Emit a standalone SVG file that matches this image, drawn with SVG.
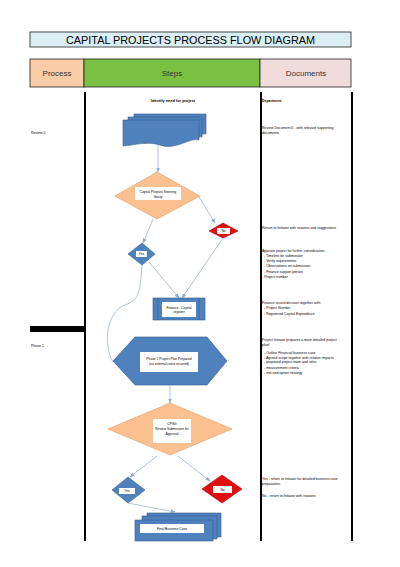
<svg xmlns="http://www.w3.org/2000/svg" width="400" height="567" viewBox="0 0 400 567">
<style>
.t{font-family:"Liberation Sans",Arial,sans-serif;fill:#000}
.s{font-size:3.5px}
.d{font-size:3.3px;text-anchor:middle}
.hd{font-size:8px;text-anchor:middle;fill:#333}
.col{stroke:#000;stroke-width:2}
.blue{fill:#4f81bd;stroke:#385d8a;stroke-width:0.6}
.peach{fill:#fac090;stroke:#e59b5a;stroke-width:0.6}
.red{fill:#e01010;stroke:#b00000;stroke-width:0.6}
.wb{fill:#fff;stroke:none}
.cn{fill:none;stroke:#8fa9cf;stroke-width:0.7}
</style>
<defs>
<marker id="ar" viewBox="0 0 10 10" refX="9" refY="5" markerWidth="5" markerHeight="5" orient="auto" markerUnits="userSpaceOnUse">
<path d="M0,1 L10,5 L0,9 Z" fill="#8fa9cf"/>
</marker>
</defs>
<rect width="400" height="567" fill="#fff"/>

<g id="title">
<rect x="30" y="32" width="321" height="15" fill="#dbeef4" stroke="#222" stroke-width="0.8"/>
<text class="t" x="190.5" y="43.5" font-size="11" fill="#222" text-anchor="middle" textLength="249" lengthAdjust="spacingAndGlyphs">CAPITAL  PROJECTS  PROCESS FLOW DIAGRAM</text>
</g>

<g id="header">
<rect x="30" y="59" width="54" height="28" fill="#f9cba6" stroke="#222" stroke-width="0.8"/>
<rect x="84" y="59" width="176" height="28" fill="#7ac143" stroke="#222" stroke-width="0.8"/>
<rect x="260" y="59" width="91" height="28" fill="#f2dcdb" stroke="#222" stroke-width="0.8"/>
<text class="t hd" x="57" y="76">Process</text>
<text class="t hd" x="172" y="76">Steps</text>
<text class="t hd" x="306" y="76">Documents</text>
</g>

<g id="columns">
<line class="col" x1="85" y1="92" x2="85" y2="153" stroke="#555"/>
<line class="col" x1="85" y1="153" x2="85" y2="541"/>
<line class="col" x1="261" y1="92" x2="261" y2="153" stroke="#555"/>
<line class="col" x1="261" y1="153" x2="261" y2="541"/>
<line class="col" x1="352" y1="92" x2="352" y2="153" stroke="#555"/>
<line class="col" x1="352" y1="153" x2="352" y2="541"/>
<rect x="30" y="326" width="55" height="6" fill="#000"/>
</g>

<g id="process-labels">
<text class="t s" x="31" y="134">Review 0</text>
<text class="t s" x="31" y="347">Phase 1</text>
</g>

<g id="doc-texts">
<text class="t s" x="262" y="102" font-weight="bold" font-size="3.8">Department</text>
<text class="t s" x="262" y="129">Review Document 0 - with relevant supporting</text>
<text class="t s" x="262" y="134">documents</text>
<text class="t s" x="262" y="229">Return to Initiator with reasons and suggestions</text>
<text class="t s" x="262" y="252">Approve project for further consideration -</text>
<text class="t s" x="264" y="256.5">- Timeline for submission</text>
<text class="t s" x="264" y="261.5">- Verify requirements</text>
<text class="t s" x="264" y="267">- Observations on submission</text>
<text class="t s" x="264" y="272.5">- Finance support person</text>
<text class="t s" x="262" y="277.5">- Project number</text>
<text class="t s" x="262" y="304">Finance record decision together with:</text>
<text class="t s" x="264" y="309">- Project Number</text>
<text class="t s" x="264" y="314.5">- Registered Capital Expenditure</text>
<text class="t s" x="262" y="341">Project Initiator prepares a more detailed project</text>
<text class="t s" x="262" y="345.5">plan/</text>
<text class="t s" x="264" y="353.5">- Outline Financial business case</text>
<text class="t s" x="264" y="358.5">- Agreed scope together with relative impacts</text>
<text class="t s" x="264" y="363">- proposed project team and roles</text>
<text class="t s" x="264" y="368.5">- measurement criteria</text>
<text class="t s" x="264" y="374">- exit and option strategy</text>
<text class="t s" x="262" y="480">Yes - return to Initiator for detailed business case</text>
<text class="t s" x="262" y="485">preparation.</text>
<text class="t s" x="262" y="497">No - return to Initiator with reasons</text>
</g>

<g id="step-title">
<text class="t" x="173" y="102" font-size="3.9" font-weight="bold" text-anchor="middle">Identify need for project</text>
</g>

<g id="connectors">
<line class="cn" x1="158" y1="144" x2="158" y2="172" marker-end="url(#ar)"/>
<line class="cn" x1="199" y1="197" x2="215" y2="223" marker-end="url(#ar)"/>
<line class="cn" x1="153" y1="219" x2="143" y2="243" marker-end="url(#ar)"/>
<line class="cn" x1="149" y1="262" x2="179" y2="298" marker-end="url(#ar)"/>
<line class="cn" x1="223" y1="238" x2="182" y2="298" marker-end="url(#ar)"/>
<path class="cn" d="M142,265 C140,290 140,300 125,305 C106,312 103,345 113,362"/>
<line class="cn" x1="170" y1="385" x2="170" y2="403" marker-end="url(#ar)"/>
<line class="cn" x1="157" y1="456" x2="130" y2="477" marker-end="url(#ar)"/>
<line class="cn" x1="178" y1="456" x2="210" y2="481" marker-end="url(#ar)"/>
<line class="cn" x1="128" y1="503" x2="175" y2="512" marker-end="url(#ar)"/>
</g>

<g id="node-identify">
<path class="blue" d="M134,114 H206 V134 C203,133.5 201,134.5 199,135.5 L134,135.5 Z"/>
<path class="blue" d="M128,117 H202 V137 C199,136.5 197,137.5 195,138.5 L128,138.5 Z"/>
<path class="blue" d="M123,120 H199 V140 C190,137 175,151 160,145 C148,141 135,145 123,146 Z"/>
</g>

<g id="node-cpsg">
<polygon class="peach" points="157,172 200,196 157,219 115,196"/>
<rect class="wb" x="135" y="187" width="46" height="13"/>
<text class="t d" x="158" y="192.5">Capital Projects Steering</text>
<text class="t d" x="158" y="197.5">Group</text>
</g>

<g id="node-no1">
<polygon class="red" points="223,223 238,231 223,238 209,231"/>
<rect class="wb" x="217" y="228" width="13" height="6"/>
<text class="t d" x="223.5" y="232.3">No</text>
</g>

<g id="node-yes1">
<polygon class="blue" points="142,243 155,254 142,265 128,254"/>
<rect class="wb" x="136" y="251" width="11" height="6"/>
<text class="t d" x="141.5" y="255.2">Yes</text>
</g>

<g id="node-finance">
<rect class="blue" x="153" y="298" width="52" height="22"/>
<line x1="158" y1="298" x2="158" y2="320" stroke="#385d8a" stroke-width="0.6"/>
<line x1="199" y1="298" x2="199" y2="320" stroke="#385d8a" stroke-width="0.6"/>
<rect class="wb" x="162" y="302" width="34" height="15"/>
<text class="t d" x="179" y="308.5">Finance - Capital</text>
<text class="t d" x="179" y="313">register</text>
</g>

<g id="node-phase1">
<polygon class="blue" points="135,337 207,337 227,361 207,385 135,385 113,361"/>
<rect class="wb" x="140" y="352" width="58" height="20"/>
<text class="t d" x="169" y="360">Phase 1 Project Plan Prepared</text>
<text class="t d" x="169" y="365">(no external costs incurred)</text>
</g>

<g id="node-cpsg-review">
<polygon class="peach" points="170,403 232,429 170,455 108,429"/>
<rect class="wb" x="153" y="419" width="38" height="24"/>
<text class="t d" x="172" y="425">CPSG</text>
<text class="t d" x="172" y="430">Review Submission for</text>
<text class="t d" x="172" y="435">Approval</text>
</g>

<g id="node-yes2">
<polygon class="blue" points="128,477 145,490 128,503 112,490"/>
<rect class="wb" x="119" y="488" width="16" height="6"/>
<text class="t d" x="127" y="492.3">Yes</text>
</g>

<g id="node-no2">
<polygon class="red" points="222,475 242,489 222,503 202,489"/>
<rect class="wb" x="213" y="486" width="19" height="7"/>
<text class="t d" x="222.5" y="490.8">No</text>
</g>

<g id="node-final">
<rect class="blue" x="147" y="513" width="74" height="24"/>
<rect class="blue" x="142" y="516" width="75" height="23"/>
<rect class="blue" x="135" y="520" width="78" height="21"/>
<rect class="wb" x="140" y="524" width="64" height="9"/>
<text class="t d" x="172" y="529.8">Final Business Case</text>
</g>
</svg>
